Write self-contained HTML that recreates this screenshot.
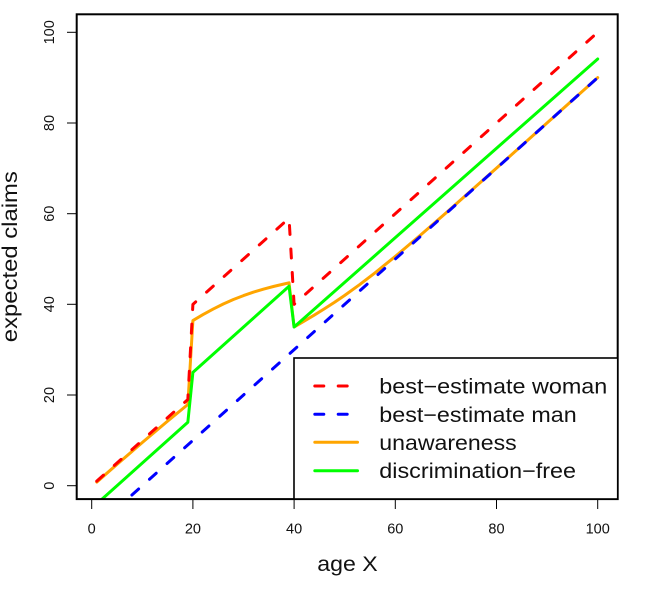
<!DOCTYPE html>
<html><head><meta charset="utf-8"><style>
html,body{margin:0;padding:0;background:#fff;}
svg{display:block;}
text{font-family:"Liberation Sans",Arial,sans-serif;fill:#111;}
</style></head><body>
<svg width="660" height="597" viewBox="0 0 660 597" xmlns="http://www.w3.org/2000/svg">
<defs><clipPath id="pc"><rect x="76.7" y="14.3" width="541" height="484.8"/></clipPath></defs>
<rect width="660" height="597" fill="#fff"/>
<g clip-path="url(#pc)" fill="none" stroke-width="3" stroke-linejoin="round">
<polyline stroke="#FFA500" stroke-linecap="round" points="96.76,482.06 117.0,464.36 142.3,442.51 167.6,421.13 187.84,404.5 192.9,320.57 203.02,314.59 213.14,309.06 223.26,304.02 233.38,299.53 243.5,295.59 253.62,292.1 263.74,289.06 273.86,286.38 283.98,283.98 289.04,282.8 294.1,327.01 299.16,324.06 304.22,321.07 314.34,315.04 324.46,308.78 334.58,302.25 344.7,295.36 359.88,284.44 375.06,272.78 395.3,256.42 420.6,235.01 445.9,212.98 496.5,168.14 597.7,77.64"/>
<polyline stroke="#00FF00" stroke-linecap="round" points="96.76,503.84 187.84,422.22 192.9,372.35 289.04,286.2 294.1,327.01 597.7,58.97"/>
<polyline stroke="#FF0000" stroke-linecap="round" stroke-dasharray="9 14.6" points="96.76,481.17 187.84,399.55 192.9,304.34 289.04,218.19 294.1,304.34 597.7,32.3"/>
<polyline stroke="#0000FF" stroke-linecap="round" stroke-dasharray="9 14.6" points="96.76,526.51 597.7,77.64"/>
</g>
<!-- plot box -->
<rect x="76.7" y="14.3" width="541" height="484.8" fill="none" stroke="#000" stroke-width="2"/>
<!-- x ticks -->
<g stroke="#000" stroke-width="1">
<line x1="91.7" y1="499" x2="91.7" y2="509"/>
<line x1="192.9" y1="499" x2="192.9" y2="509"/>
<line x1="294.1" y1="499" x2="294.1" y2="509"/>
<line x1="395.3" y1="499" x2="395.3" y2="509"/>
<line x1="496.5" y1="499" x2="496.5" y2="509"/>
<line x1="597.7" y1="499" x2="597.7" y2="509"/>
<line x1="67" y1="485.7" x2="76.7" y2="485.7"/>
<line x1="67" y1="395.0" x2="76.7" y2="395.0"/>
<line x1="67" y1="304.3" x2="76.7" y2="304.3"/>
<line x1="67" y1="213.7" x2="76.7" y2="213.7"/>
<line x1="67" y1="123.0" x2="76.7" y2="123.0"/>
<line x1="67" y1="32.3" x2="76.7" y2="32.3"/>
</g>
<g font-size="14.5" text-anchor="middle">
<text x="91.7" y="533.3">0</text>
<text x="192.9" y="533.3">20</text>
<text x="294.1" y="533.3">40</text>
<text x="395.3" y="533.3">60</text>
<text x="496.5" y="533.3">80</text>
<text x="597.7" y="533.3">100</text>
<text transform="translate(54,485.7) rotate(-90)">0</text>
<text transform="translate(54,395.0) rotate(-90)">20</text>
<text transform="translate(54,304.3) rotate(-90)">40</text>
<text transform="translate(54,213.7) rotate(-90)">60</text>
<text transform="translate(54,123.0) rotate(-90)">80</text>
<text transform="translate(54,32.3) rotate(-90)">100</text>
</g>
<text x="317.3" y="571" font-size="21" textLength="60.4" lengthAdjust="spacingAndGlyphs">age X</text>
<text transform="translate(17,256.7) rotate(-90)" x="-85.5" y="0" font-size="21" textLength="171" lengthAdjust="spacingAndGlyphs">expected claims</text>
<!-- legend -->
<rect x="294" y="358" width="323.7" height="141" fill="#fff" stroke="#000" stroke-width="1.6"/>
<g fill="none" stroke-width="3" stroke-linecap="round">
<line x1="314.8" y1="386" x2="357.5" y2="386" stroke="#FF0000" stroke-dasharray="9 14.4"/>
<line x1="314.8" y1="414.3" x2="357.5" y2="414.3" stroke="#0000FF" stroke-dasharray="9 14.4"/>
<line x1="314.8" y1="442.3" x2="357.5" y2="442.3" stroke="#FFA500"/>
<line x1="314.8" y1="470.7" x2="357.5" y2="470.7" stroke="#00FF00"/>
</g>
<g font-size="21">
<text x="379.3" y="393.5" textLength="228" lengthAdjust="spacingAndGlyphs">best−estimate woman</text>
<text x="379.3" y="421.8" textLength="197.4" lengthAdjust="spacingAndGlyphs">best−estimate man</text>
<text x="379.3" y="449.8" textLength="137.4" lengthAdjust="spacingAndGlyphs">unawareness</text>
<text x="379.3" y="478.2" textLength="196.7" lengthAdjust="spacingAndGlyphs">discrimination−free</text>
</g>
</svg>
</body></html>
